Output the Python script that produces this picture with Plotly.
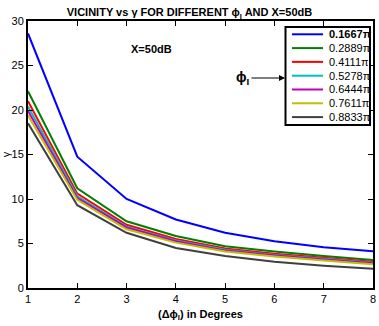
import plotly.graph_objects as go

x_vals = [1, 2, 3, 4, 5, 6, 7, 8]
labels = ["0.1667π", "0.2889π", "0.4111π", "0.5278π", "0.6444π", "0.7611π", "0.8833π"]
colors = ["#0000ff", "#007f00", "#ff0000", "#00bfbf", "#bf00bf", "#bfbf00", "#3f3f3f"]
s1 = [28.6, 14.75, 10.0, 7.7, 6.2, 5.25, 4.57, 4.12]
s2 = [22.1, 11.2, 7.5, 5.85, 4.7, 4.1, 3.6, 3.15]
s3 = [21.0, 10.6, 7.1, 5.5, 4.45, 3.85, 3.4, 2.95]
s4 = [20.4, 10.3, 6.9, 5.35, 4.3, 3.72, 3.3, 2.85]
s5 = [19.9, 10.1, 6.8, 5.25, 4.2, 3.65, 3.2, 2.78]
s6 = [19.4, 9.9, 6.6, 5.1, 4.1, 3.55, 3.1, 2.68]
s7 = [18.5, 9.3, 6.2, 4.5, 3.6, 2.95, 2.5, 2.15]
series = [s1, s2, s3, s4, s5, s6, s7]

FONT = "Liberation Sans, Arial, sans-serif"
fig = go.Figure()
for lab, col, ys in zip(labels, colors, series):
    fig.add_trace(go.Scatter(x=x_vals, y=ys, mode="lines", name=lab,
                             line=dict(color=col, width=2), showlegend=False))

# Manual legend (MATLAB-style compact box)
W, H = 379, 326
ml, mr, mt, mb = 28, 6, 21, 38
pw, ph = W - ml - mr, H - mt - mb
def px(xp):
    return (xp - ml) / pw
def py(yp):
    return (H - mb - yp) / ph

shapes = [dict(type="rect", xref="paper", yref="paper",
               x0=px(285.5), x1=px(370), y0=py(125), y1=py(27),
               line=dict(color="black", width=2), fillcolor="white", layer="above")]
annots = []
for i, (lab, col) in enumerate(zip(labels, colors)):
    yy = py(34.3 + 13.8 * i)
    shapes.append(dict(type="line", xref="paper", yref="paper",
                       x0=px(292), x1=px(323), y0=yy, y1=yy,
                       line=dict(color=col, width=2), layer="above"))
    txt = "<b>%s</b>" % lab if i == 0 else lab
    annots.append(dict(xref="paper", yref="paper", x=px(327), y=yy, text=txt,
                       showarrow=False, xanchor="left", yanchor="middle",
                       font=dict(family=FONT, size=11, color="black")))

annots.append(dict(x=3.5, y=26.9, xref="x", yref="y", text="<b>X=50dB</b>",
                   showarrow=False, font=dict(family=FONT, size=11, color="black")))
annots.append(dict(xref="paper", yref="paper", x=px(285), y=py(78),
                   text="<b>ϕ<sub>I</sub></b>", showarrow=True, arrowhead=2,
                   arrowsize=1, arrowwidth=1.2, arrowcolor="black",
                   ax=-42, ay=0, font=dict(family=FONT, size=14, color="black")))

fig.update_layout(
    width=W, height=H,
    margin=dict(l=ml, r=mr, t=mt, b=mb, autoexpand=False),
    paper_bgcolor="white", plot_bgcolor="white",
    title=dict(text="<b>VICINITY vs γ FOR DIFFERENT ϕ<sub>I</sub> AND X=50dB</b>",
               x=0.5, xanchor="center", y=0.962, yanchor="middle",
               font=dict(family=FONT, size=11, color="black")),
    font=dict(family=FONT, size=11, color="black"),
    shapes=shapes, annotations=annots,
    xaxis=dict(range=[1, 8], dtick=1, tick0=1, showgrid=False, zeroline=False,
               showline=True, linecolor="black", linewidth=2, mirror="ticks",
               ticks="inside", ticklen=5, tickcolor="black", tickwidth=1,
               automargin=False,
               title=dict(text="<b>(Δϕ<sub>I</sub>) in Degrees</b>", standoff=6,
                          font=dict(family=FONT, size=11))),
    yaxis=dict(range=[0, 30], dtick=5, showgrid=False, zeroline=False,
               showline=True, linecolor="black", linewidth=2, mirror="ticks",
               ticks="inside", ticklen=5, tickcolor="black", tickwidth=1,
               automargin=False,
               title=dict(text="γ", standoff=4, font=dict(family=FONT, size=11))),
)
fig.write_html("out.html", config={"displayModeBar": False},
               post_script="document.body.style.margin='0px';")
